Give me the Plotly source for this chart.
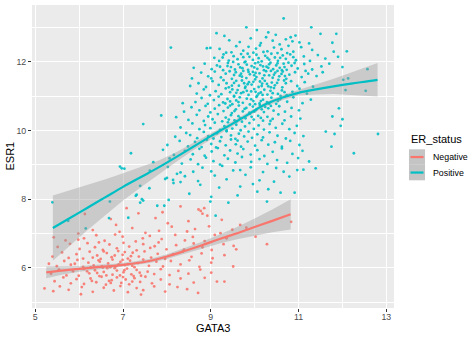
import plotly.graph_objects as go

# ---- GATA3 / ESR1 expression, ER-positive tumours: (GATA3, ESR1) ----
pos_points = [
    (9.81, 13.01), (10.66, 13.27), (11.29, 13.01),
    (9.13, 12.84), (9.31, 12.76), (10.93, 12.77), (10.82, 12.72), (11.5, 12.82), (11.86, 12.82),
    (10.31, 12.86), (10.05, 12.93), (10.48, 12.79),
    (9.66, 12.58), (9.91, 12.69), (10.14, 12.55), (10.26, 12.72), (10.41, 12.62), (10.57, 12.51),
    (10.71, 12.66), (11.02, 12.57), (11.24, 12.54), (11.77, 12.56), (10.86, 12.6), (9.42, 12.63),
    (8.09, 12.42), (8.91, 12.4), (8.99, 12.41), (9.2, 12.38), (9.47, 12.28), (9.58, 12.46), (9.74, 12.33),
    (9.86, 12.44), (9.97, 12.27), (10.03, 12.39), (10.12, 12.48), (10.29, 12.31), (10.44, 12.42),
    (10.52, 12.26), (10.61, 12.37), (10.77, 12.47), (10.88, 12.3), (11.06, 12.43), (11.31, 12.35),
    (11.8, 12.3), (12.1, 12.31), (10.2, 12.29), (9.35, 12.27),
    (9.08, 12.12), (9.29, 12.22), (9.41, 12.04), (9.52, 12.17), (9.61, 12.08), (9.69, 12.23), (9.79, 12.01),
    (9.88, 12.15), (9.96, 12.06), (10.04, 12.21), (10.09, 12.11), (10.16, 12.02), (10.24, 12.18),
    (10.33, 12.07), (10.38, 12.24), (10.46, 12.13), (10.53, 12.03), (10.64, 12.19), (10.71, 12.09),
    (10.81, 12.22), (10.94, 12.05), (11.12, 12.16), (11.26, 12.03), (11.44, 12.2), (11.61, 12.1),
    (9.84, 12.24), (10.58, 12.12), (9.19, 12.03), (10.88, 12.14), (11.9, 12.15),
    (8.61, 11.83), (8.86, 11.95), (9.02, 11.79), (9.14, 11.9), (9.28, 11.76), (9.39, 11.97), (9.46, 11.85),
    (9.55, 11.78), (9.63, 11.93), (9.72, 11.82), (9.77, 11.99), (9.85, 11.77), (9.93, 11.88), (10.01, 11.96),
    (10.06, 11.8), (10.13, 11.91), (10.21, 11.76), (10.27, 11.86), (10.36, 11.98), (10.42, 11.79),
    (10.49, 11.9), (10.57, 11.83), (10.66, 11.95), (10.73, 11.77), (10.84, 11.89), (10.98, 11.81),
    (11.13, 11.94), (11.31, 11.78), (11.52, 11.87), (12.0, 11.85), (12.57, 11.79), (9.21, 11.86),
    (10.31, 11.83), (10.91, 11.97), (9.99, 11.84), (10.62, 11.76), (11.7, 11.95),
    (8.57, 11.52), (8.78, 11.69), (8.94, 11.58), (9.09, 11.72), (9.23, 11.55), (9.34, 11.66), (9.48, 11.51),
    (9.57, 11.7), (9.66, 11.6), (9.74, 11.74), (9.81, 11.53), (9.89, 11.64), (9.96, 11.71), (10.04, 11.56),
    (10.11, 11.67), (10.18, 11.52), (10.26, 11.73), (10.33, 11.61), (10.41, 11.54), (10.47, 11.69),
    (10.56, 11.58), (10.64, 11.72), (10.72, 11.51), (10.79, 11.63), (10.92, 11.7), (11.07, 11.56),
    (11.22, 11.66), (11.41, 11.59), (12.13, 11.52), (9.43, 11.73), (9.99, 11.61), (10.61, 11.65),
    (9.71, 11.57), (10.37, 11.74), (11.55, 11.7),
    (8.53, 11.3), (8.72, 11.38), (8.89, 11.27), (9.04, 11.44), (9.18, 11.33), (9.29, 11.47), (9.41, 11.26),
    (9.53, 11.39), (9.64, 11.31), (9.71, 11.46), (9.79, 11.28), (9.87, 11.41), (9.93, 11.34), (10.01, 11.49),
    (10.09, 11.27), (10.17, 11.37), (10.23, 11.45), (10.31, 11.29), (10.39, 11.4), (10.46, 11.32),
    (10.54, 11.48), (10.63, 11.26), (10.71, 11.38), (10.83, 11.44), (10.97, 11.3), (11.14, 11.41),
    (11.33, 11.28), (12.02, 11.48), (9.58, 11.45), (10.37, 11.26), (9.84, 11.35), (10.12, 11.43),
    (8.68, 11.08), (8.84, 11.2), (8.98, 11.03), (9.11, 11.15), (9.24, 11.06), (9.34, 11.23), (9.44, 11.12),
    (9.53, 11.01), (9.61, 11.18), (9.69, 11.09), (9.78, 11.24), (9.86, 11.04), (9.92, 11.14), (9.99, 11.21),
    (10.06, 11.02), (10.14, 11.11), (10.22, 11.19), (10.29, 11.05), (10.36, 11.16), (10.44, 11.24),
    (10.53, 11.07), (10.62, 11.17), (10.73, 11.03), (10.86, 11.13), (11.02, 11.22), (11.19, 11.08),
    (12.07, 11.18), (12.53, 11.16), (9.49, 11.2), (10.09, 11.08), (10.59, 11.01), (9.74, 11.12),
    (8.36, 10.8), (8.65, 10.83), (8.79, 10.95), (8.93, 10.78), (9.07, 10.89), (9.18, 10.99), (9.28, 10.82),
    (9.38, 10.92), (9.49, 10.77), (9.58, 10.88), (9.66, 10.97), (9.73, 10.81), (9.82, 10.93), (9.89, 10.76),
    (9.97, 10.86), (10.04, 10.98), (10.11, 10.79), (10.19, 10.9), (10.28, 10.83), (10.38, 10.96),
    (10.49, 10.78), (10.58, 10.91), (10.74, 10.84), (10.88, 10.97), (11.09, 10.8), (11.28, 10.9),
    (9.53, 10.99), (10.01, 10.77), (9.33, 10.79),
    (8.39, 10.55), (8.56, 10.68), (8.74, 10.59), (8.88, 10.72), (8.99, 10.53), (9.09, 10.64), (9.19, 10.74),
    (9.29, 10.57), (9.39, 10.67), (9.48, 10.51), (9.57, 10.62), (9.64, 10.73), (9.73, 10.56), (9.81, 10.66),
    (9.88, 10.52), (9.96, 10.7), (10.03, 10.6), (10.12, 10.74), (10.21, 10.54), (10.31, 10.65),
    (10.43, 10.58), (10.56, 10.71), (10.69, 10.55), (10.84, 10.66), (11.01, 10.59), (11.92, 10.65),
    (9.44, 10.73), (10.24, 10.69),
    (7.87, 10.44), (8.21, 10.39), (8.49, 10.31), (8.68, 10.46), (8.84, 10.28), (8.94, 10.41), (9.04, 10.33),
    (9.16, 10.48), (9.26, 10.27), (9.34, 10.38), (9.46, 10.45), (9.54, 10.3), (9.63, 10.42), (9.71, 10.26),
    (9.79, 10.36), (9.89, 10.49), (9.98, 10.32), (10.08, 10.43), (10.19, 10.29), (10.29, 10.4),
    (10.41, 10.34), (10.54, 10.47), (10.68, 10.3), (10.83, 10.41), (11.04, 10.35), (11.77, 10.41),
    (12.0, 10.33), (9.59, 10.27),
    (7.46, 10.19), (8.31, 10.09), (8.58, 10.21), (8.74, 10.04), (8.87, 10.16), (8.99, 10.07), (9.09, 10.23),
    (9.21, 10.02), (9.31, 10.13), (9.39, 10.24), (9.49, 10.06), (9.58, 10.17), (9.68, 10.01), (9.78, 10.12),
    (9.88, 10.22), (9.98, 10.05), (10.09, 10.15), (10.21, 10.03), (10.34, 10.19), (10.48, 10.08),
    (10.63, 10.2), (10.79, 10.04), (10.96, 10.14), (11.96, 10.14), (9.36, 10.01),
    (8.19, 9.82), (8.44, 9.93), (8.53, 9.87), (8.69, 9.78), (8.84, 9.96), (8.94, 9.84), (9.06, 9.77),
    (9.14, 9.92), (9.24, 9.81), (9.36, 9.98), (9.46, 9.86), (9.56, 9.76), (9.64, 9.91), (9.76, 9.83),
    (9.86, 9.97), (9.94, 9.79), (10.06, 9.89), (10.19, 9.8), (10.34, 9.95), (10.52, 9.85), (10.71, 9.77),
    (10.91, 9.93), (11.11, 9.84), (11.82, 9.9), (11.62, 9.97), (12.81, 9.9),
    (8.01, 9.58), (8.29, 9.7), (8.48, 9.54), (8.64, 9.67), (8.79, 9.52), (8.91, 9.73), (9.01, 9.61),
    (9.12, 9.51), (9.21, 9.69), (9.34, 9.57), (9.46, 9.74), (9.57, 9.6), (9.69, 9.53), (9.84, 9.68),
    (10.01, 9.56), (10.16, 9.72), (10.31, 9.59), (10.46, 9.66), (10.62, 9.53), (10.81, 9.7), (11.02, 9.58),
    (11.75, 9.53), (9.61, 9.71),
    (7.18, 9.34), (7.91, 9.44), (8.16, 9.29), (8.41, 9.41), (8.59, 9.31), (8.74, 9.47), (8.86, 9.27),
    (9.02, 9.39), (9.16, 9.49), (9.31, 9.28), (9.44, 9.42), (9.61, 9.33), (9.74, 9.46), (9.91, 9.3),
    (10.06, 9.43), (10.22, 9.26), (10.41, 9.38), (10.62, 9.48), (10.86, 9.32), (11.09, 9.41), (12.26, 9.34),
    (7.69, 9.08), (8.06, 9.19), (8.34, 9.04), (8.54, 9.16), (8.71, 9.02), (8.89, 9.21), (9.06, 9.11),
    (9.21, 9.01), (9.39, 9.18), (9.56, 9.07), (9.71, 9.23), (9.92, 9.09), (10.11, 9.17), (10.29, 9.03),
    (10.51, 9.14), (10.74, 9.06), (10.99, 9.2), (11.24, 9.1),
    (6.93, 8.95), (6.97, 8.9), (7.03, 8.89), (7.61, 8.83), (8.02, 8.94), (8.31, 8.78), (8.6, 8.8),
    (8.81, 8.92), (9.01, 8.81), (9.26, 8.97), (9.51, 8.84), (9.67, 8.85), (9.91, 8.93), (10.19, 8.79),
    (10.49, 8.91), (10.66, 8.8), (10.97, 8.85), (11.11, 8.86), (11.39, 8.9),
    (7.96, 8.59), (8.0, 8.62), (8.23, 8.74), (8.14, 8.56), (8.41, 8.67), (8.71, 8.53), (9.09, 8.69),
    (9.36, 8.58), (9.79, 8.71), (10.11, 8.55), (10.44, 8.51), (10.79, 8.66),
    (7.39, 8.39), (7.6, 8.32), (8.15, 8.47), (8.31, 8.5), (8.76, 8.42), (9.19, 8.34), (9.67, 8.37),
    (9.96, 8.44), (10.31, 8.29),
    (7.31, 8.13), (7.29, 8.1), (8.51, 8.16), (9.01, 8.07), (10.06, 8.22), (10.59, 8.19), (10.91, 8.19),
    (9.61, 8.11),
    (5.39, 7.91), (6.7, 7.93), (7.43, 8.0), (7.39, 7.9), (7.46, 7.96), (7.78, 7.81), (7.94, 7.81),
    (8.04, 7.98), (8.99, 7.93), (9.4, 7.9), (10.28, 7.93),
    (5.75, 7.37), (6.15, 7.15), (6.68, 7.45), (7.12, 7.46), (9.11, 7.52),
    # densest part of the cloud
    (9.38, 11.88), (9.51, 12.0), (9.67, 11.84), (9.82, 11.92), (10.08, 11.99), (10.19, 11.87),
    (10.33, 11.93), (10.52, 11.96), (10.68, 11.85), (10.77, 11.98), (9.53, 11.62), (9.69, 11.66),
    (9.86, 11.71), (10.02, 11.68), (10.22, 11.61), (10.44, 11.63), (10.52, 11.74), (10.69, 11.59),
    (9.36, 11.38), (9.48, 11.31), (9.76, 11.38), (9.97, 11.42), (10.16, 11.3), (10.28, 11.36),
    (10.51, 11.39), (10.67, 11.46), (9.58, 11.1), (9.82, 11.16), (10.02, 11.13), (10.18, 11.04),
    (10.41, 11.09), (10.68, 11.12), (9.44, 10.85), (9.63, 10.83), (9.92, 10.91), (10.14, 10.86),
    (10.33, 10.78), (10.53, 10.86), (9.54, 10.57), (9.77, 10.63), (9.99, 10.55), (10.16, 10.62),
    (10.37, 10.72), (9.41, 10.32), (9.67, 10.36), (9.93, 10.4), (10.14, 10.37), (10.36, 10.28),
    (9.27, 12.13), (9.74, 12.14), (10.29, 12.12), (10.74, 12.26), (9.01, 11.52), (11.16, 11.74),
]

# ---- ER-negative tumours: (GATA3, ESR1) ----
neg_points = [
    (6.13, 7.57), (6.84, 7.25), (7.08, 7.74), (7.35, 7.59), (7.74, 7.45), (8.02, 7.3), (8.31, 7.79),
    (8.49, 7.36), (8.72, 7.7), (8.77, 7.66), (8.81, 7.58), (8.85, 7.74), (8.92, 7.52), (9.67, 7.25),
    (10.83, 7.34), (6.72, 7.42), (7.9, 7.62), (9.25, 7.4),
    (6.31, 7.1), (6.92, 7.05), (7.21, 7.16), (7.51, 7.02), (8.11, 7.2), (8.46, 7.06), (8.64, 7.13),
    (8.96, 7.21), (9.22, 7.01), (9.49, 7.11), (9.81, 7.17), (7.82, 7.08), (5.98, 7.0),
    (5.42, 6.89), (5.69, 6.8), (5.98, 6.82), (6.11, 6.86), (6.39, 6.95), (6.58, 6.79), (6.99, 6.91),
    (7.29, 6.77), (7.61, 6.93), (7.88, 6.84), (8.19, 6.96), (8.41, 6.8), (8.59, 6.9), (8.86, 6.78),
    (9.09, 6.96), (9.36, 6.86), (10.02, 6.91), (6.82, 6.97), (7.45, 6.86),
    (5.51, 6.61), (5.79, 6.7), (6.01, 6.55), (6.19, 6.72), (6.36, 6.6), (6.54, 6.52), (6.69, 6.68),
    (6.86, 6.57), (7.01, 6.73), (7.14, 6.62), (7.31, 6.51), (7.46, 6.69), (7.62, 6.58), (7.81, 6.74),
    (7.99, 6.54), (8.21, 6.66), (8.39, 6.53), (8.61, 6.71), (8.81, 6.6), (9.02, 6.52), (9.29, 6.69),
    (9.52, 6.64), (9.58, 6.54), (10.28, 6.69), (6.45, 6.74), (7.72, 6.63),
    (5.39, 6.33), (5.61, 6.45), (5.76, 6.29), (5.94, 6.4), (6.09, 6.27), (6.24, 6.47), (6.41, 6.36),
    (6.49, 6.26), (6.63, 6.43), (6.74, 6.31), (6.89, 6.49), (6.99, 6.38), (7.11, 6.27), (7.22, 6.44),
    (7.36, 6.33), (7.49, 6.48), (7.64, 6.3), (7.79, 6.41), (7.96, 6.26), (8.14, 6.39), (8.36, 6.47),
    (8.56, 6.32), (8.79, 6.42), (9.04, 6.28), (9.31, 6.37), (6.56, 6.48), (6.31, 6.3), (7.04, 6.46),
    (5.31, 6.12), (5.49, 6.05), (5.66, 6.2), (5.81, 6.09), (5.96, 6.23), (6.09, 6.03), (6.21, 6.15),
    (6.33, 6.07), (6.44, 6.22), (6.54, 6.01), (6.66, 6.13), (6.76, 6.24), (6.84, 6.05), (6.94, 6.17),
    (7.04, 6.08), (7.16, 6.21), (7.26, 6.02), (7.34, 6.14), (7.46, 6.24), (7.59, 6.06), (7.76, 6.18),
    (7.91, 6.04), (8.09, 6.2), (8.31, 6.1), (8.51, 6.22), (8.74, 6.03), (9.01, 6.15), (9.51, 6.04),
    (6.71, 6.02), (6.99, 6.23), (6.26, 6.01), (7.11, 6.11),
    (5.36, 5.83), (5.54, 5.95), (5.71, 5.78), (5.86, 5.9), (5.99, 5.77), (6.11, 5.97), (6.23, 5.84),
    (6.36, 5.93), (6.46, 5.76), (6.56, 5.88), (6.64, 5.99), (6.76, 5.8), (6.86, 5.92), (6.93, 5.78),
    (7.01, 5.87), (7.09, 5.98), (7.19, 5.81), (7.31, 5.94), (7.41, 5.77), (7.56, 5.89), (7.71, 5.82),
    (7.86, 5.96), (8.06, 5.79), (8.26, 5.91), (8.49, 5.83), (8.76, 5.95), (9.01, 5.86), (6.81, 5.99),
    (7.24, 5.76), (6.41, 5.85),
    (5.44, 5.61), (5.64, 5.72), (5.81, 5.55), (5.94, 5.67), (6.11, 5.53), (6.26, 5.69), (6.39, 5.58),
    (6.51, 5.74), (6.61, 5.51), (6.74, 5.64), (6.86, 5.72), (6.96, 5.56), (7.06, 5.66), (7.14, 5.52),
    (7.26, 5.7), (7.39, 5.59), (7.51, 5.74), (7.66, 5.55), (7.86, 5.66), (8.06, 5.52), (8.31, 5.69),
    (8.61, 5.57), (8.86, 5.71), (9.14, 5.6), (9.31, 5.6), (7.0, 5.73), (6.68, 5.62),
    (5.21, 5.4), (5.41, 5.32), (5.56, 5.46), (5.76, 5.36), (6.06, 5.44), (6.31, 5.3), (6.56, 5.42),
    (6.79, 5.34), (6.94, 5.47), (7.11, 5.29), (7.31, 5.41), (7.46, 5.35), (7.71, 5.46), (7.96, 5.31),
    (8.24, 5.44), (8.46, 5.38), (8.71, 5.27),
    (6.04, 5.23), (7.41, 5.22),
    # densest part of the cloud
    (6.18, 5.9), (6.52, 6.04), (6.62, 5.78), (6.9, 6.1), (7.03, 5.93), (7.21, 6.06), (7.38, 5.86),
    (6.47, 6.18), (6.81, 6.36), (7.18, 6.34), (6.29, 5.62), (6.72, 5.56), (7.21, 5.6), (5.9, 6.12),
]

# ---- loess fits with 95% confidence half-widths ----
pos_fit_x = [5.4, 5.8, 6.2, 6.6, 7.0, 7.4, 7.8, 8.2, 8.6, 9.0, 9.4, 9.8, 10.2, 10.6, 11.0,
             11.4, 11.8, 12.2, 12.6, 12.8]
pos_fit_y = [7.16, 7.46, 7.76, 8.06, 8.36, 8.64, 8.92, 9.22, 9.53, 9.84, 10.13, 10.43, 10.74,
             10.95, 11.1, 11.2, 11.29, 11.37, 11.44, 11.48]
pos_fit_se = [0.95, 0.8, 0.65, 0.52, 0.4, 0.3, 0.2, 0.14, 0.1, 0.08, 0.07, 0.06, 0.06, 0.07,
              0.08, 0.15, 0.22, 0.32, 0.43, 0.49]

neg_fit_x = [5.25, 5.6, 6.0, 6.4, 6.8, 7.2, 7.6, 8.0, 8.4, 8.8, 9.2, 9.6, 10.0, 10.4, 10.82]
neg_fit_y = [5.87, 5.92, 5.97, 6.02, 6.06, 6.12, 6.2, 6.33, 6.49, 6.66, 6.84, 7.01, 7.19, 7.37, 7.56]
neg_fit_se = [0.17, 0.12, 0.08, 0.07, 0.06, 0.06, 0.06, 0.07, 0.08, 0.1, 0.13, 0.18, 0.25, 0.33, 0.44]

groups = ["Negative", "Positive"]
colors = {"Negative": "#F8766D", "Positive": "#00BFC4"}

x_ticks = [5, 7, 9, 11, 13]
y_ticks = [6, 8, 10, 12]

fig = go.Figure()

scatter = {"Negative": neg_points, "Positive": pos_points}
for g in groups:
    xs, ys = zip(*scatter[g])
    fig.add_trace(go.Scatter(
        x=list(xs), y=list(ys), mode="markers", name=g, showlegend=False,
        marker=dict(color=colors[g], size=2.8, opacity=0.9, line=dict(width=0)),
        hoverinfo="skip"))

fits = {
    "Negative": (neg_fit_x, neg_fit_y, neg_fit_se),
    "Positive": (pos_fit_x, pos_fit_y, pos_fit_se),
}
for g in groups:
    fx, fy, fse = fits[g]
    upper = [y + s for y, s in zip(fy, fse)]
    lower = [y - s for y, s in zip(fy, fse)]
    fig.add_trace(go.Scatter(
        x=fx + fx[::-1], y=upper + lower[::-1], mode="lines", fill="toself",
        fillcolor="rgba(153,153,153,0.4)", line=dict(width=0), showlegend=False,
        hoverinfo="skip"))
for g in groups:
    fx, fy, _ = fits[g]
    fig.add_trace(go.Scatter(
        x=fx, y=fy, mode="lines", line=dict(color=colors[g], width=2.2, shape="spline"),
        showlegend=False, hoverinfo="skip"))

# panel geometry in pixels (used to place the hand-built legend)
W, H = 474, 338
L, R, T, B = 32, 80, 5, 30
pw, ph = W - L - R, H - T - B


def px_x(px):
    return (px - L) / pw


def px_y(py):
    return (H - B - py) / ph


axis_common = dict(
    showgrid=True, gridcolor="white", gridwidth=1.1, zeroline=False,
    ticks="outside", ticklen=3, tickwidth=1, tickcolor="#333333",
    tickfont=dict(family="Liberation Sans, Arial, sans-serif", size=8.8, color="#4D4D4D"),
    showline=False,
)
fig.update_layout(
    width=W, height=H,
    margin=dict(l=L, r=R, t=T, b=B),
    paper_bgcolor="white", plot_bgcolor="#EBEBEB",
    showlegend=False,
    font=dict(family="Liberation Sans, Arial, sans-serif"),
    xaxis=dict(range=[4.925, 13.175], tickvals=x_ticks, ticktext=[str(v) for v in x_ticks],
               ticklabelstandoff=-3,
               minor=dict(dtick=1, tick0=5, showgrid=True, gridcolor="white", gridwidth=0.5, ticks=""),
               **axis_common),
    yaxis=dict(range=[4.83, 13.66], tickvals=y_ticks, ticktext=[str(v) for v in y_ticks],
               minor=dict(dtick=1, tick0=5, showgrid=True, gridcolor="white", gridwidth=0.5, ticks=""),
               **axis_common),
)

annotations = [
    dict(text="GATA3", x=0.5, y=0, xref="paper", yref="paper", xanchor="center", yanchor="middle",
         yshift=-19.5, showarrow=False, font=dict(size=11, color="black")),
    dict(text="ESR1", x=0, y=0.5, xref="paper", yref="paper", xanchor="center", yanchor="middle",
         xshift=-23, textangle=-90, showarrow=False, font=dict(size=11, color="black")),
    dict(text="ER_status", x=px_x(408.5), y=px_y(139), xref="paper", yref="paper",
         xanchor="left", yanchor="middle", showarrow=False, font=dict(size=11, color="black")),
]
shapes = []
key_top = 149.3
key_h = 15.5
for i, g in enumerate(groups):
    y0 = key_top + i * key_h
    shapes.append(dict(type="rect", xref="paper", yref="paper",
                       x0=px_x(409), x1=px_x(425), y0=px_y(y0), y1=px_y(y0 + key_h),
                       fillcolor="#C4C4C4", line=dict(width=0), layer="above"))
    yc = y0 + key_h / 2
    shapes.append(dict(type="line", xref="paper", yref="paper",
                       x0=px_x(410.5), x1=px_x(423.5), y0=px_y(yc), y1=px_y(yc),
                       line=dict(color=colors[g], width=2.2), layer="above"))
    annotations.append(dict(text=g, x=px_x(431), y=px_y(yc), xref="paper", yref="paper",
                            xanchor="left", yanchor="middle", showarrow=False,
                            font=dict(size=8.8, color="black")))

fig.update_layout(annotations=annotations, shapes=shapes)

fig.write_html("out.html")
